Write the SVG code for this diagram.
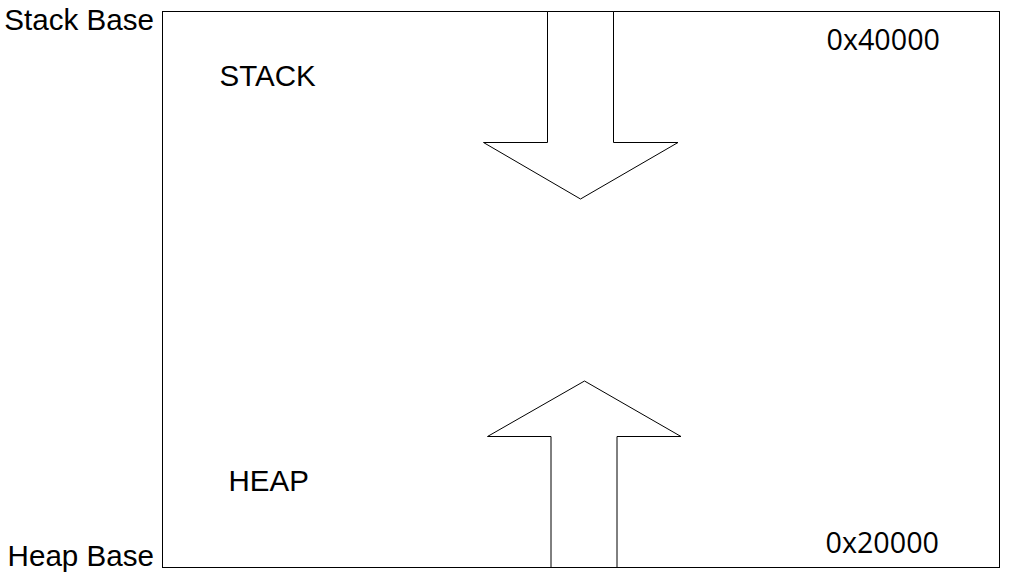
<svg xmlns="http://www.w3.org/2000/svg" width="1016" height="585" viewBox="0 0 1016 585">
<style>
.shape{fill:#ffffff;stroke:#000000;stroke-width:1}
.lbl{font-family:"Liberation Sans",Arial,sans-serif;font-size:29.6px;fill:#000000}
.inner{font-family:"Liberation Sans",Arial,sans-serif;font-size:29.5px;fill:#000000}
.addr{font-family:"Open Sans","Noto Sans",sans-serif;font-size:28.7px;fill:#000000}
</style>
<rect x="0" y="0" width="1016" height="585" fill="#ffffff"/>
<g id="memory">
<rect class="shape" x="162.5" y="11.5" width="837" height="556"/>
<text class="inner" x="219.5" y="86">STACK</text>
<text class="inner" x="228.5" y="491">HEAP</text>
<text class="addr" x="826.5" y="50">0x40000</text>
<text class="addr" x="825.5" y="553">0x20000</text>
</g>
<g id="stack-arrow">
<polygon class="shape" points="547.5,11.5 613.5,11.5 613.5,142.5 678,142.5 580.5,199 483.5,142.5 547.5,142.5"/>
</g>
<g id="heap-arrow">
<polygon class="shape" points="551,567.5 617,567.5 617,436.5 681,436.5 584.5,381 487.5,436.5 551,436.5"/>
</g>
<g id="labels">
<text class="lbl" x="154" y="29.5" text-anchor="end">Stack Base</text>
<text class="lbl" x="154" y="565.5" text-anchor="end">Heap Base</text>
</g>
</svg>
